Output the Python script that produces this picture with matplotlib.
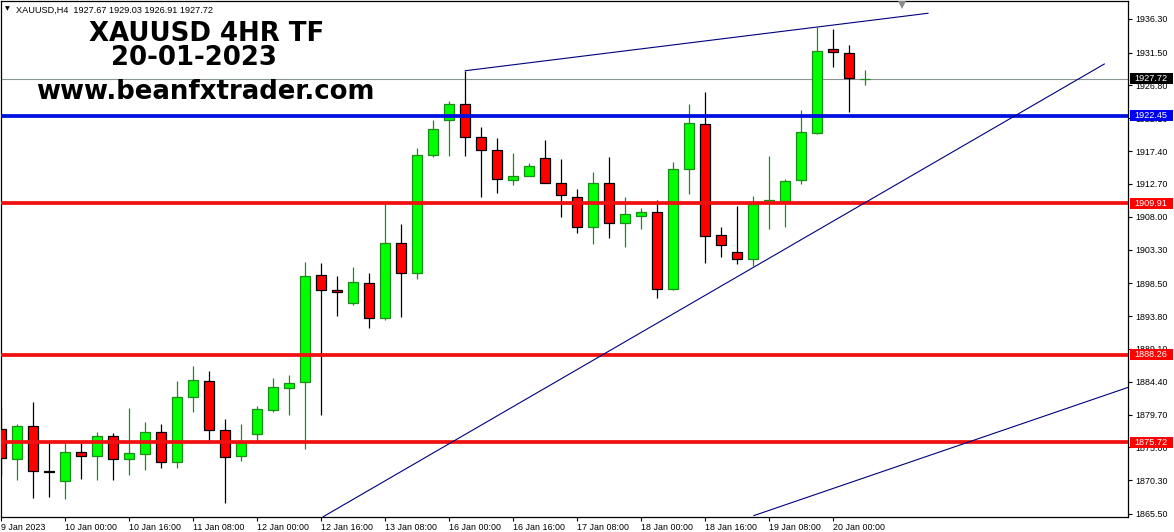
import matplotlib
matplotlib.use("Agg")
import matplotlib.pyplot as plt
from matplotlib.patches import Rectangle
import matplotlib.transforms as mtransforms

# ---------------- data ----------------
opens = [1877.7, 1873.4, 1878.1, 1871.7, 1870.25, 1874.3, 1873.8, 1876.7, 1873.3, 1874.1,
         1877.2, 1872.9, 1882.2, 1884.5, 1877.5, 1873.8, 1876.9, 1880.3, 1883.5, 1884.3,
         1899.7, 1897.6, 1895.6, 1898.6, 1893.5, 1904.3, 1899.9, 1916.9, 1921.8, 1924.1,
         1919.4, 1917.6, 1913.3, 1913.8, 1916.4, 1912.8, 1910.9, 1906.5, 1912.9, 1907.1,
         1908.1, 1908.7, 1897.7, 1914.8, 1921.3, 1905.4, 1903.0, 1901.9, 1910.1, 1910.2,
         1913.2, 1920.0, 1932.0, 1931.5, 1927.67]
highs = [1880.8, 1878.4, 1881.5, 1875.6, 1875.6, 1875.6, 1877.2, 1877.1, 1880.7, 1878.7,
         1878.4, 1884.5, 1886.6, 1885.9, 1879.1, 1878.4, 1880.9, 1884.9, 1885.4, 1901.6,
         1901.4, 1899.5, 1900.8, 1899.9, 1909.9, 1907.0, 1917.8, 1921.9, 1924.6, 1928.9,
         1920.8, 1919.3, 1917.1, 1915.7, 1919.0, 1916.3, 1912.0, 1914.4, 1916.6, 1910.8,
         1909.2, 1910.4, 1915.8, 1924.1, 1925.9, 1906.6, 1909.6, 1911.0, 1916.7, 1913.4,
         1923.3, 1935.1, 1934.9, 1932.6, 1929.03]
lows = [1871.1, 1870.3, 1867.8, 1867.9, 1867.6, 1870.45, 1870.4, 1870.3, 1871.1, 1871.8,
        1872.0, 1872.1, 1880.1, 1875.9, 1867.0, 1873.0, 1875.9, 1880.1, 1879.7, 1874.8,
        1879.7, 1893.8, 1895.4, 1892.1, 1893.3, 1893.6, 1899.1, 1916.6, 1916.7, 1916.7,
        1910.8, 1911.4, 1912.5, 1913.8, 1912.8, 1908.0, 1905.7, 1904.1, 1905.0, 1903.7,
        1906.2, 1896.4, 1897.6, 1911.2, 1901.4, 1902.2, 1901.2, 1900.9, 1906.3, 1906.6,
        1912.7, 1919.9, 1929.4, 1923.0, 1926.91]
closes = [1873.5, 1878.1, 1871.7, 1871.45, 1874.3, 1873.8, 1876.7, 1873.3, 1874.2, 1877.2,
          1872.9, 1882.2, 1884.6, 1877.5, 1873.7, 1875.6, 1880.5, 1883.6, 1884.2, 1899.5,
          1897.6, 1897.2, 1898.7, 1893.5, 1904.3, 1899.9, 1916.8, 1920.5, 1924.1, 1919.4,
          1917.6, 1913.4, 1913.8, 1915.3, 1912.9, 1911.1, 1906.5, 1912.9, 1907.1, 1908.4,
          1908.7, 1897.7, 1914.8, 1921.4, 1905.2, 1903.9, 1901.9, 1909.8, 1910.4, 1913.1,
          1920.1, 1931.7, 1931.6, 1927.8, 1927.72]

time_labels = ["9 Jan 2023", "10 Jan 00:00", "10 Jan 16:00", "11 Jan 08:00", "12 Jan 00:00",
               "12 Jan 16:00", "13 Jan 08:00", "16 Jan 00:00", "16 Jan 16:00", "17 Jan 08:00",
               "18 Jan 00:00", "18 Jan 16:00", "19 Jan 08:00", "20 Jan 00:00"]
time_label_bars = [0, 4, 8, 12, 16, 20, 24, 28, 32, 36, 40, 44, 48, 52]

price_ticks = [1936.30, 1931.50, 1926.80, 1922.10, 1917.40, 1912.70, 1908.00, 1903.30,
               1898.50, 1893.80, 1889.10, 1884.40, 1879.70, 1875.00, 1870.30, 1865.50]

resistance_level = 1922.45
support_levels = [1909.91, 1888.26, 1875.72]
current_price = 1927.72

# trend lines: (bar0, price0, bar1, price1)
trend_x0 = [29.02, 20.14, 47.06]
trend_p0 = [1928.90, 1865.10, 1865.26]
trend_x1 = [57.94, 68.96, 70.46]
trend_p1 = [1937.12, 1929.86, 1883.61]

header = "XAUUSD,H4  1927.67 1929.03 1926.91 1927.72"
title1 = "XAUUSD 4HR TF"
title2 = "20-01-2023"
website = "www.beanfxtrader.com"

# ---------------- figure ----------------
W, H = 1174, 532
fig = plt.figure(figsize=(W / 100, H / 100), dpi=100)
ax = fig.add_axes([0.5 / W, 15.3 / H, 1127.8 / W, 515.7 / H])
ax.set_xlim(-0.03, 70.46)
ax.set_ylim(1865.1, 1938.875)
ax.set_facecolor("white")

BULL_FILL = "#00ff00"
BULL_EDGE = "#1a8c1a"
BEAR_FILL = "#ff0000"
BEAR_EDGE = "#000000"

xs = list(range(len(opens)))
for i in xs:
    o, h, l, c = opens[i], highs[i], lows[i], closes[i]
    bull = c >= o
    edge = BULL_EDGE if bull else BEAR_EDGE
    fill = BULL_FILL if bull else BEAR_FILL
    ax.vlines(i, l, h, color=edge, lw=0.9, zorder=3)
    ax.bar(i, abs(c - o), bottom=min(o, c), width=0.6, color=fill,
           edgecolor=edge, linewidth=0.9, zorder=4)

# horizontal levels
ax.axhline(current_price, color="#8a9396", lw=0.8, zorder=2)
ax.axhline(resistance_level, color="#0010e0", lw=2.7, zorder=5)
for lv in support_levels:
    ax.axhline(lv, color="#f01010", lw=2.7, zorder=5)

# trend lines
for x0, p0, x1, p1 in zip(trend_x0, trend_p0, trend_x1, trend_p1):
    ax.plot([x0, x1], [p0, p1], color="#000080", lw=0.8, zorder=6)

# chart shift marker
ax.plot([56.3], [0.992], marker="v", color="#8a8a8a", ms=6, mew=0,
        transform=ax.get_xaxis_transform(), clip_on=False, zorder=7)

# axes styling
for s in ax.spines.values():
    s.set_color("black")
    s.set_linewidth(0.9)
ax.yaxis.tick_right()
ax.set_yticks(price_ticks)
ax.set_yticklabels([f"{v:.2f}" for v in price_ticks])
ax.set_xticks(time_label_bars)
ax.set_xticklabels(time_labels)
ax.tick_params(axis="both", direction="out", length=3.2, width=0.8,
               labelsize=6.4, pad=1.5, colors="black")
for lbl in ax.get_xticklabels():
    lbl.set_ha("left")
    lbl.set_family("Liberation Sans")
for lbl in ax.get_yticklabels():
    lbl.set_family("Liberation Sans")

# price tags on the right axis
tag_tr = mtransforms.blended_transform_factory(ax.transAxes, ax.transData)
tag_levels = [current_price, resistance_level] + support_levels
tag_colors = ["#000000", "#0000f0", "#ff0000", "#ff0000", "#ff0000"]
px_per_price = 515.7 / (1938.875 - 1865.1)
half_h = 5.5 / px_per_price
for lv, col in zip(tag_levels, tag_colors):
    ax.add_patch(Rectangle((1.0 + 2 / 1127.8, lv - half_h), 43 / 1127.8, 2 * half_h,
                           transform=tag_tr, facecolor=col, edgecolor="none",
                           clip_on=False, zorder=10))
    ax.text(1.0 + 6 / 1127.8, lv, f"{lv:.2f}", transform=tag_tr, color="white",
            fontsize=6.6, family="Liberation Sans", va="center", ha="left",
            clip_on=False, zorder=11)

# header and titles
fig.text(7 / W, 1 - 9 / H, "\u25bc", fontsize=4.5, family="DejaVu Sans",
         ha="center", va="center", color="black")
fig.text(16.5 / W, 1 - 12.7 / H, header, fontsize=6.6, family="Liberation Sans",
         ha="left", va="baseline", color="black")
fig.text(206.5 / W, 1 - 40.7 / H, title1, fontsize=18.7, family="DejaVu Sans",
         weight="bold", ha="center", va="baseline", color="black")
fig.text(194 / W, 1 - 65 / H, title2, fontsize=18.7, family="DejaVu Sans",
         weight="bold", ha="center", va="baseline", color="black")
fig.text(205.5 / W, 1 - 98.7 / H, website, fontsize=18.7, family="DejaVu Sans",
         weight="bold", ha="center", va="baseline", color="black")

fig.savefig("out.png", dpi=100, facecolor="white")
